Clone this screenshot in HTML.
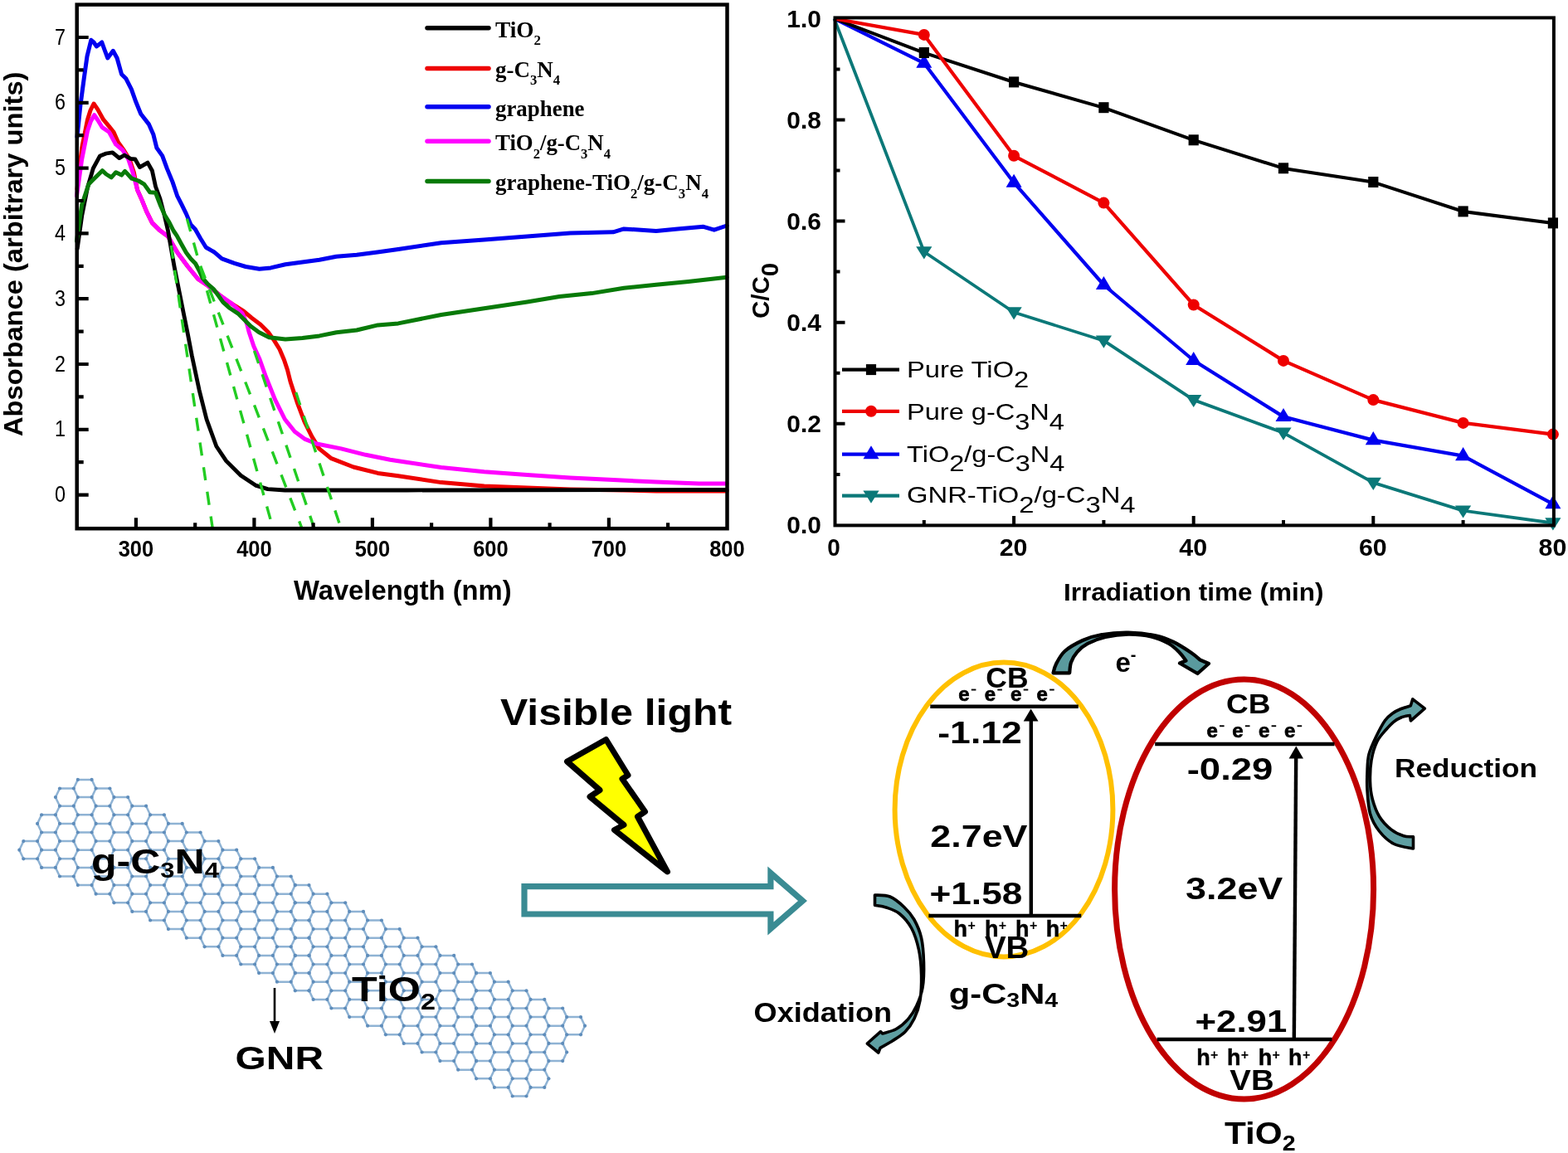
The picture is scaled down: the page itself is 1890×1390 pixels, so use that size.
<!DOCTYPE html><html><head><meta charset="utf-8"><title>Figure</title><style>html,body{margin:0;padding:0;background:#fff;overflow:hidden;}svg{display:block;}</style></head><body>
<svg width="1890" height="1390" viewBox="0 0 1890 1390">
<rect width="1890" height="1390" fill="#fff"/>
<defs><filter id="soft" x="-5%" y="-5%" width="110%" height="110%"><feGaussianBlur stdDeviation="0.55"/></filter></defs>
<g id="leftchart">
<g fill="none" stroke-linejoin="round" stroke-linecap="round">
<polyline points="93,228 98.7,178.3 105.5,144.2 109,133 113,125 117.8,131.9 124.6,144.2 131.5,152.4 137,159.2 142.4,171.5 149.2,181 156.1,192 161.5,208.4 165.6,228.9 171.1,241.2 176.6,254.9 183.4,268.6 193,278.1 202.5,285 214.2,305.1 226.5,321.5 238.8,336.5 251.1,344.7 264.7,355.7 275.7,363.9 293.4,374.8 303,383 314,391.2 323.5,400.8 330.4,410.4 337,421 342.5,434 346.5,446 350,460 358.1,484.8 367,508.4 375.8,526.1 384.7,540.9 399.4,552.7 426,563 455.5,570.4 480,573.8 531.8,581.6 583.6,586 635.4,588.1 687.3,589.9 739.1,590.7 790.9,592 876,592" stroke="#ee0000" stroke-width="5"/>
<polyline points="92.5,236 98.7,192 105.5,157.8 109.5,146 113.7,138.7 118,145 123.3,153.7 131.5,159.2 139.7,174.2 147.9,181 154.7,192 160.2,208.4 165.6,228.9 171.1,241.2 176.6,254.9 183.4,268.6 193,278.1 202.5,285 214.2,305.1 226.5,321.5 238.8,336.5 251.1,344.7 264.7,355.7 278.4,365.2 292.1,377.6 297.5,389.9 300.3,400.8 305.8,417.2 312.6,432.2 319.8,452.4 331.6,481.9 343.4,505.5 355.2,520.2 367,529.1 381.7,535 411.2,540.9 440.7,548.3 470.2,554.2 480,555.7 531.8,563.5 583.6,568.7 635.4,572.5 687.3,575.9 739.1,578.5 790.9,581.1 842.7,582.9 876,583" stroke="#ff00ff" stroke-width="5"/>
<polyline points="93,165 96.9,127.1 101.2,94.8 105,67.8 109.8,48.3 113,51 116.3,55.9 122.8,51 126,60 129.8,70 136.3,61.3 141.1,70 146.5,89.4 151.9,94.8 158.4,107.7 163.8,122.8 169.7,137.3 179.3,149.6 184.8,161.9 188.9,178.3 195.7,187.9 201.2,202.9 208,219.4 213.5,235.8 219,246.7 224.4,257.6 229.9,270.7 235.4,276.5 241.5,287.3 248.3,298.3 257.9,303.7 267.5,311.9 282.5,317.4 296.2,321.5 312.6,324.2 326.3,322.9 344,318.8 364.5,316 385,313.3 405.5,309.2 430,307.2 455,304 480,300.5 531.8,292.7 583.6,288.9 635.4,285 687.3,281.1 739.1,279.8 752,275.9 790.9,278.5 816.8,275.9 847.9,273.3 860.8,277.2 876,272" stroke="#0000f0" stroke-width="5"/>
<polyline points="93.2,300 98.7,260.4 105.5,226.2 112.3,203 120.5,187.9 128,185 135.6,183.8 143.8,190.6 150,187 157.4,191.3 162.9,192 168.4,201.6 178,196.1 183.4,205.7 187.5,224.8 193,239.9 198.4,260.4 202.5,278.1 206,298.3 210.1,321.5 215.5,348.8 221,376.2 226.5,403.5 231.3,428.8 240.1,470.1 249,505.5 260.8,538 272.6,555.6 290.3,573.3 308,585.1 322.7,589.6 343.4,591 490,591 876,590.5" stroke="#000" stroke-width="4.8"/>
<polyline points="92.5,290.4 98.7,246.7 106.9,222.1 112.3,216.6 118,211 123.3,205.7 128,210 134.2,213.9 139.7,207.7 146.5,211.1 150.6,206.4 158.8,215.2 167,218 173.8,222.1 180.7,231.7 187.5,232.3 193,246.7 198.4,259 204,268 209,278 213.3,284.4 218.5,294 224.4,304.4 230,312 235.6,317.8 240,326 244.4,335.6 250,342 257.8,348.9 263,356 268.9,364.4 277,371.5 286.7,377.8 294,385 302.2,393.3 312,400.5 324.4,406.7 344,409 364.5,407.6 385,404.9 405.5,400.8 430,398 455.5,391.9 480,389.9 531.8,379.5 583.6,371.8 635.4,364 674.3,357.5 713.2,353.6 752,347.2 790.9,343.3 829.7,339.4 876,334.2" stroke="#087a08" stroke-width="5"/>
<line x1="206.2" y1="296" x2="256.4" y2="638" stroke="#22cc22" stroke-width="3.4" stroke-dasharray="16 14" stroke-linecap="butt"/>
<line x1="225.4" y1="263.6" x2="329" y2="637" stroke="#22cc22" stroke-width="3.4" stroke-dasharray="16 14" stroke-linecap="butt"/>
<line x1="241.6" y1="320.6" x2="364" y2="637" stroke="#22cc22" stroke-width="3.4" stroke-dasharray="16 14" stroke-linecap="butt"/>
<line x1="306.5" y1="422.9" x2="378.8" y2="637" stroke="#22cc22" stroke-width="3.4" stroke-dasharray="16 14" stroke-linecap="butt"/>
<line x1="356.7" y1="473" x2="411" y2="637" stroke="#22cc22" stroke-width="3.4" stroke-dasharray="16 14" stroke-linecap="butt"/>
</g>
<rect x="92.7" y="5.6" width="783.8" height="631.6" fill="none" stroke="#000" stroke-width="4.5"/>
<path d="M163.9 637.2v-13M235.2 637.2v-7M306.4 637.2v-13M377.6 637.2v-7M448.9 637.2v-13M520.1 637.2v-7M591.4 637.2v-13M662.6 637.2v-7M733.9 637.2v-13M805.1 637.2v-7M92.7 596.6h14M92.7 557.2h8M92.7 517.8h14M92.7 478.4h8M92.7 439h14M92.7 399.6h8M92.7 360.2h14M92.7 320.8h8M92.7 281.4h14M92.7 242h8M92.7 202.6h14M92.7 163.2h8M92.7 123.8h14M92.7 84.4h8M92.7 45h14" stroke="#000" stroke-width="4.2" fill="none"/>
<text x="79" y="605.1" font-family="'Liberation Sans', Arial, sans-serif" font-size="27.5" font-weight="normal" text-anchor="end" fill="#000" textLength="13" lengthAdjust="spacingAndGlyphs" >0</text>
<text x="79" y="526.3" font-family="'Liberation Sans', Arial, sans-serif" font-size="27.5" font-weight="normal" text-anchor="end" fill="#000" textLength="13" lengthAdjust="spacingAndGlyphs" >1</text>
<text x="79" y="447.5" font-family="'Liberation Sans', Arial, sans-serif" font-size="27.5" font-weight="normal" text-anchor="end" fill="#000" textLength="13" lengthAdjust="spacingAndGlyphs" >2</text>
<text x="79" y="368.7" font-family="'Liberation Sans', Arial, sans-serif" font-size="27.5" font-weight="normal" text-anchor="end" fill="#000" textLength="13" lengthAdjust="spacingAndGlyphs" >3</text>
<text x="79" y="289.9" font-family="'Liberation Sans', Arial, sans-serif" font-size="27.5" font-weight="normal" text-anchor="end" fill="#000" textLength="13" lengthAdjust="spacingAndGlyphs" >4</text>
<text x="79" y="211.1" font-family="'Liberation Sans', Arial, sans-serif" font-size="27.5" font-weight="normal" text-anchor="end" fill="#000" textLength="13" lengthAdjust="spacingAndGlyphs" >5</text>
<text x="79" y="132.3" font-family="'Liberation Sans', Arial, sans-serif" font-size="27.5" font-weight="normal" text-anchor="end" fill="#000" textLength="13" lengthAdjust="spacingAndGlyphs" >6</text>
<text x="79" y="53.5" font-family="'Liberation Sans', Arial, sans-serif" font-size="27.5" font-weight="normal" text-anchor="end" fill="#000" textLength="13" lengthAdjust="spacingAndGlyphs" >7</text>
<text x="163.9" y="670.5" font-family="'Liberation Sans', Arial, sans-serif" font-size="28" font-weight="bold" text-anchor="middle" fill="#000" textLength="42.5" lengthAdjust="spacingAndGlyphs" >300</text>
<text x="306.4" y="670.5" font-family="'Liberation Sans', Arial, sans-serif" font-size="28" font-weight="bold" text-anchor="middle" fill="#000" textLength="42.5" lengthAdjust="spacingAndGlyphs" >400</text>
<text x="448.9" y="670.5" font-family="'Liberation Sans', Arial, sans-serif" font-size="28" font-weight="bold" text-anchor="middle" fill="#000" textLength="42.5" lengthAdjust="spacingAndGlyphs" >500</text>
<text x="591.4" y="670.5" font-family="'Liberation Sans', Arial, sans-serif" font-size="28" font-weight="bold" text-anchor="middle" fill="#000" textLength="42.5" lengthAdjust="spacingAndGlyphs" >600</text>
<text x="733.9" y="670.5" font-family="'Liberation Sans', Arial, sans-serif" font-size="28" font-weight="bold" text-anchor="middle" fill="#000" textLength="42.5" lengthAdjust="spacingAndGlyphs" >700</text>
<text x="876.4" y="670.5" font-family="'Liberation Sans', Arial, sans-serif" font-size="28" font-weight="bold" text-anchor="middle" fill="#000" textLength="42.5" lengthAdjust="spacingAndGlyphs" >800</text>
<text x="354" y="723.3" font-family="'Liberation Sans', Arial, sans-serif" font-size="32.7" font-weight="bold" text-anchor="start" fill="#000" textLength="262.6" lengthAdjust="spacingAndGlyphs" >Wavelength (nm)</text>
<text transform="translate(26.8,526) rotate(-90)" font-family="'Liberation Sans', Arial, sans-serif" font-size="31.5" font-weight="bold" textLength="439.5" lengthAdjust="spacingAndGlyphs">Absorbance (arbitrary units)</text>
<line x1="515" y1="33.7" x2="589" y2="33.7" stroke="#000" stroke-width="5.5" stroke-linecap="round"/>
<text x="597" y="44.7" font-family="'Liberation Serif', 'Times New Roman', serif" font-size="27.5" font-weight="bold" textLength="55" lengthAdjust="spacingAndGlyphs">TiO<tspan font-size="17" dy="9.5">2</tspan></text>
<line x1="515" y1="82.4" x2="589" y2="82.4" stroke="#ee0000" stroke-width="5.5" stroke-linecap="round"/>
<text x="597" y="92.5" font-family="'Liberation Serif', 'Times New Roman', serif" font-size="27.5" font-weight="bold" textLength="78" lengthAdjust="spacingAndGlyphs">g-C<tspan font-size="17" dy="9.5">3</tspan><tspan dy="-9.5">N</tspan><tspan font-size="17" dy="9.5">4</tspan></text>
<line x1="515" y1="128.8" x2="589" y2="128.8" stroke="#0000f0" stroke-width="5.5" stroke-linecap="round"/>
<text x="597" y="139.5" font-family="'Liberation Serif', 'Times New Roman', serif" font-size="27.5" font-weight="bold" textLength="107.5" lengthAdjust="spacingAndGlyphs">graphene</text>
<line x1="515" y1="170.2" x2="589" y2="170.2" stroke="#ff00ff" stroke-width="5.5" stroke-linecap="round"/>
<text x="597" y="181.0" font-family="'Liberation Serif', 'Times New Roman', serif" font-size="27.5" font-weight="bold" textLength="139" lengthAdjust="spacingAndGlyphs">TiO<tspan font-size="17" dy="9.5">2</tspan><tspan dy="-9.5">/g-C</tspan><tspan font-size="17" dy="9.5">3</tspan><tspan dy="-9.5">N</tspan><tspan font-size="17" dy="9.5">4</tspan></text>
<line x1="515" y1="218.4" x2="589" y2="218.4" stroke="#087a08" stroke-width="5.5" stroke-linecap="round"/>
<text x="597" y="229.0" font-family="'Liberation Serif', 'Times New Roman', serif" font-size="27.5" font-weight="bold" textLength="257" lengthAdjust="spacingAndGlyphs">graphene-TiO<tspan font-size="17" dy="9.5">2</tspan><tspan dy="-9.5">/g-C</tspan><tspan font-size="17" dy="9.5">3</tspan><tspan dy="-9.5">N</tspan><tspan font-size="17" dy="9.5">4</tspan></text>
</g>
<g id="rightchart">
<polyline points="1005.5,22.4 1113.8,303.5 1222.1,376.5 1330.4,410.7 1438.7,482.1 1547,521.8 1655.3,581.9 1763.6,615.6 1871.9,630.5" fill="none" stroke="#0b7878" stroke-width="3.8" stroke-linejoin="round"/>
<polygon points="1113.8,312.5 1123.4,297.3 1104.2,297.3" fill="#0b7878"/>
<polygon points="1222.1,385.5 1231.7,370.3 1212.5,370.3" fill="#0b7878"/>
<polygon points="1330.4,419.7 1340,404.5 1320.8,404.5" fill="#0b7878"/>
<polygon points="1438.7,491.1 1448.3,475.9 1429.1,475.9" fill="#0b7878"/>
<polygon points="1547,530.8 1556.6,515.6 1537.4,515.6" fill="#0b7878"/>
<polygon points="1655.3,590.9 1664.9,575.7 1645.7,575.7" fill="#0b7878"/>
<polygon points="1763.6,624.6 1773.2,609.4 1754,609.4" fill="#0b7878"/>
<polygon points="1871.9,639.5 1881.5,624.3 1862.3,624.3" fill="#0b7878"/>
<polyline points="1005.5,22.4 1113.8,76.1 1222.1,220.2 1330.4,343.5 1438.7,434.5 1547,502.4 1655.3,530.6 1763.6,549.6 1871.9,607.6" fill="none" stroke="#0000f0" stroke-width="4.2" stroke-linejoin="round"/>
<polygon points="1113.8,65.6 1123.3,81.7 1104.3,81.7" fill="#0000f0"/>
<polygon points="1222.1,209.7 1231.6,225.8 1212.6,225.8" fill="#0000f0"/>
<polygon points="1330.4,333 1339.9,349.1 1320.9,349.1" fill="#0000f0"/>
<polygon points="1438.7,424 1448.2,440.1 1429.2,440.1" fill="#0000f0"/>
<polygon points="1547,491.9 1556.5,508 1537.5,508" fill="#0000f0"/>
<polygon points="1655.3,520.1 1664.8,536.2 1645.8,536.2" fill="#0000f0"/>
<polygon points="1763.6,539.1 1773.1,555.2 1754.1,555.2" fill="#0000f0"/>
<polygon points="1871.9,597.1 1881.4,613.2 1862.4,613.2" fill="#0000f0"/>
<polyline points="1005.5,22.4 1113.8,63.6 1222.1,99 1330.4,129.8 1438.7,168.9 1547,202.9 1655.3,219.6 1763.6,255 1871.9,269" fill="none" stroke="#000" stroke-width="4" stroke-linejoin="round"/>
<rect x="1107.7" y="57" width="12.2" height="13" fill="#000"/>
<rect x="1216" y="92.4" width="12.2" height="13" fill="#000"/>
<rect x="1324.3" y="123.2" width="12.2" height="13" fill="#000"/>
<rect x="1432.6" y="162.3" width="12.2" height="13" fill="#000"/>
<rect x="1540.9" y="196.3" width="12.2" height="13" fill="#000"/>
<rect x="1649.2" y="213" width="12.2" height="13" fill="#000"/>
<rect x="1757.5" y="248.4" width="12.2" height="13" fill="#000"/>
<rect x="1865.8" y="262.4" width="12.2" height="13" fill="#000"/>
<polyline points="1005.5,22.4 1113.8,41.9 1222.1,187.8 1330.4,244.6 1438.7,367.5 1547,434.9 1655.3,482.1 1763.6,509.9 1871.9,523.6" fill="none" stroke="#ee0000" stroke-width="4.2" stroke-linejoin="round"/>
<circle cx="1113.8" cy="41.9" r="7" fill="#ee0000"/>
<circle cx="1222.1" cy="187.8" r="7" fill="#ee0000"/>
<circle cx="1330.4" cy="244.6" r="7" fill="#ee0000"/>
<circle cx="1438.7" cy="367.5" r="7" fill="#ee0000"/>
<circle cx="1547" cy="434.9" r="7" fill="#ee0000"/>
<circle cx="1655.3" cy="482.1" r="7" fill="#ee0000"/>
<circle cx="1763.6" cy="509.9" r="7" fill="#ee0000"/>
<circle cx="1871.9" cy="523.6" r="7" fill="#ee0000"/>
<rect x="1006.5" y="21.4" width="866.4" height="612" fill="none" stroke="#000" stroke-width="4"/>
<path d="M1113.8 632.9v-6M1222.1 632.9v-11M1330.4 632.9v-6M1438.7 632.9v-11M1547 632.9v-6M1655.3 632.9v-11M1763.6 632.9v-6M1006.5 571.9h6M1006.5 510.8h12M1006.5 449.8h6M1006.5 388.7h12M1006.5 327.6h6M1006.5 266.6h12M1006.5 205.6h6M1006.5 144.5h12M1006.5 83.4h6" stroke="#000" stroke-width="4" fill="none"/>
<text x="989.8" y="643.3" font-family="'Liberation Sans', Arial, sans-serif" font-size="29.5" font-weight="bold" text-anchor="end" fill="#000" textLength="41.5" lengthAdjust="spacingAndGlyphs" >0.0</text>
<text x="989.8" y="521.2" font-family="'Liberation Sans', Arial, sans-serif" font-size="29.5" font-weight="bold" text-anchor="end" fill="#000" textLength="41.5" lengthAdjust="spacingAndGlyphs" >0.2</text>
<text x="989.8" y="399.1" font-family="'Liberation Sans', Arial, sans-serif" font-size="29.5" font-weight="bold" text-anchor="end" fill="#000" textLength="41.5" lengthAdjust="spacingAndGlyphs" >0.4</text>
<text x="989.8" y="277" font-family="'Liberation Sans', Arial, sans-serif" font-size="29.5" font-weight="bold" text-anchor="end" fill="#000" textLength="41.5" lengthAdjust="spacingAndGlyphs" >0.6</text>
<text x="989.8" y="154.9" font-family="'Liberation Sans', Arial, sans-serif" font-size="29.5" font-weight="bold" text-anchor="end" fill="#000" textLength="41.5" lengthAdjust="spacingAndGlyphs" >0.8</text>
<text x="989.8" y="32.8" font-family="'Liberation Sans', Arial, sans-serif" font-size="29.5" font-weight="bold" text-anchor="end" fill="#000" textLength="41.5" lengthAdjust="spacingAndGlyphs" >1.0</text>
<text x="1005" y="670.4" font-family="'Liberation Sans', Arial, sans-serif" font-size="30" font-weight="bold" text-anchor="middle" fill="#000" textLength="15.5" lengthAdjust="spacingAndGlyphs" >0</text>
<text x="1221.6" y="670.4" font-family="'Liberation Sans', Arial, sans-serif" font-size="30" font-weight="bold" text-anchor="middle" fill="#000" textLength="33.8" lengthAdjust="spacingAndGlyphs" >20</text>
<text x="1438.2" y="670.4" font-family="'Liberation Sans', Arial, sans-serif" font-size="30" font-weight="bold" text-anchor="middle" fill="#000" textLength="33.8" lengthAdjust="spacingAndGlyphs" >40</text>
<text x="1654.8" y="670.4" font-family="'Liberation Sans', Arial, sans-serif" font-size="30" font-weight="bold" text-anchor="middle" fill="#000" textLength="33.8" lengthAdjust="spacingAndGlyphs" >60</text>
<text x="1871.4" y="670.4" font-family="'Liberation Sans', Arial, sans-serif" font-size="30" font-weight="bold" text-anchor="middle" fill="#000" textLength="33.8" lengthAdjust="spacingAndGlyphs" >80</text>
<text x="1282" y="724.2" font-family="'Liberation Sans', Arial, sans-serif" font-size="30" font-weight="bold" text-anchor="start" fill="#000" textLength="313.4" lengthAdjust="spacingAndGlyphs" >Irradiation time (min)</text>
<text transform="translate(927,384) rotate(-90)" font-family="'Liberation Sans', Arial, sans-serif" font-size="30" font-weight="bold" textLength="67" lengthAdjust="spacingAndGlyphs">C/C<tspan dy="10.5">0</tspan></text>
<line x1="1015" y1="445.7" x2="1084" y2="445.7" stroke="#000" stroke-width="4.2"/>
<rect x="1043.9" y="439.1" width="12.2" height="13" fill="#000"/>
<text x="1093" y="455.3" font-family="'Liberation Sans', Arial, sans-serif" font-size="28.5" textLength="147.3" lengthAdjust="spacingAndGlyphs">Pure TiO<tspan dy="11.7">2</tspan></text>
<line x1="1015" y1="495.8" x2="1084" y2="495.8" stroke="#ee0000" stroke-width="4.2"/>
<circle cx="1050" cy="495.8" r="7" fill="#ee0000"/>
<text x="1093" y="505.9" font-family="'Liberation Sans', Arial, sans-serif" font-size="28.5" textLength="190" lengthAdjust="spacingAndGlyphs">Pure g-C<tspan dy="11.7">3</tspan><tspan dy="-11.7">N</tspan><tspan dy="11.7">4</tspan></text>
<line x1="1015" y1="547.7" x2="1084" y2="547.7" stroke="#0000f0" stroke-width="4.2"/>
<polygon points="1050,537.2 1059.5,553.3 1040.5,553.3" fill="#0000f0"/>
<text x="1093" y="556.5" font-family="'Liberation Sans', Arial, sans-serif" font-size="28.5" textLength="190.4" lengthAdjust="spacingAndGlyphs">TiO<tspan dy="11.7">2</tspan><tspan dy="-11.7">/g-C</tspan><tspan dy="11.7">3</tspan><tspan dy="-11.7">N</tspan><tspan dy="11.7">4</tspan></text>
<line x1="1015" y1="597.7" x2="1084" y2="597.7" stroke="#0b7878" stroke-width="4.2"/>
<polygon points="1050,606.7 1059.6,591.5 1040.4,591.5" fill="#0b7878"/>
<text x="1093" y="606.3" font-family="'Liberation Sans', Arial, sans-serif" font-size="28.5" textLength="275.6" lengthAdjust="spacingAndGlyphs">GNR-TiO<tspan dy="11.7">2</tspan><tspan dy="-11.7">/g-C</tspan><tspan dy="11.7">3</tspan><tspan dy="-11.7">N</tspan><tspan dy="11.7">4</tspan></text>
</g>
<g filter="url(#soft)">
<path d="M23.3 1024.7L28.3 1014.1M23.3 1024.7L28.3 1035.3M28.3 1014.1L45.1 1014.1M28.3 1035.3L45.1 1035.3M45.1 992.9L50.1 982.3M45.1 992.9L50.1 1003.5M45.1 1014.1L50.1 1003.5M45.1 1014.1L50.1 1024.7M45.1 1035.3L50.1 1024.7M45.1 1035.3L50.1 1045.9M50.1 982.3L66.9 982.3M50.1 1003.5L66.9 1003.5M50.1 1024.7L66.9 1024.7M50.1 1045.9L66.9 1045.9M66.9 961.1L72 950.5M66.9 961.1L72 971.7M66.9 982.3L72 971.7M66.9 982.3L72 992.9M66.9 1003.5L72 992.9M66.9 1003.5L72 1014.1M66.9 1024.7L72 1014.1M66.9 1024.7L72 1035.3M66.9 1045.9L72 1035.3M66.9 1045.9L72 1056.5M72 950.5L88.8 950.5M72 971.7L88.8 971.7M72 992.9L88.8 992.9M72 1014.1L88.8 1014.1M72 1035.3L88.8 1035.3M72 1056.5L88.8 1056.5M88.8 950.5L93.8 939.9M88.8 950.5L93.8 961.1M88.8 971.7L93.8 961.1M88.8 971.7L93.8 982.3M88.8 992.9L93.8 982.3M88.8 992.9L93.8 1003.5M88.8 1014.1L93.8 1003.5M88.8 1014.1L93.8 1024.7M88.8 1035.3L93.8 1024.7M88.8 1035.3L93.8 1045.9M88.8 1056.5L93.8 1045.9M88.8 1056.5L93.8 1067.1M93.8 939.9L110.6 939.9M93.8 961.1L110.6 961.1M93.8 982.3L110.6 982.3M93.8 1003.5L110.6 1003.5M93.8 1024.7L110.6 1024.7M93.8 1045.9L110.6 1045.9M93.8 1067.1L110.6 1067.1M110.6 939.9L115.6 950.5M110.6 961.1L115.6 950.5M110.6 961.1L115.6 971.7M110.6 982.3L115.6 971.7M110.6 982.3L115.6 992.9M110.6 1003.5L115.6 992.9M110.6 1003.5L115.6 1014.1M110.6 1024.7L115.6 1014.1M110.6 1024.7L115.6 1035.3M110.6 1045.9L115.6 1035.3M110.6 1045.9L115.6 1056.5M110.6 1067.1L115.6 1056.5M110.6 1067.1L115.6 1077.7M115.6 950.5L132.4 950.5M115.6 971.7L132.4 971.7M115.6 992.9L132.4 992.9M115.6 1014.1L132.4 1014.1M115.6 1035.3L132.4 1035.3M115.6 1056.5L132.4 1056.5M115.6 1077.7L132.4 1077.7M132.4 950.5L137.4 961.1M132.4 971.7L137.4 961.1M132.4 971.7L137.4 982.3M132.4 992.9L137.4 982.3M132.4 992.9L137.4 1003.5M132.4 1014.1L137.4 1003.5M132.4 1014.1L137.4 1024.7M132.4 1035.3L137.4 1024.7M132.4 1035.3L137.4 1045.9M132.4 1056.5L137.4 1045.9M132.4 1056.5L137.4 1067.1M132.4 1077.7L137.4 1067.1M132.4 1077.7L137.4 1088.3M137.4 961.1L154.2 961.1M137.4 982.3L154.2 982.3M137.4 1003.5L154.2 1003.5M137.4 1024.7L154.2 1024.7M137.4 1045.9L154.2 1045.9M137.4 1067.1L154.2 1067.1M137.4 1088.3L154.2 1088.3M154.2 961.1L159.3 971.7M154.2 982.3L159.3 971.7M154.2 982.3L159.3 992.9M154.2 1003.5L159.3 992.9M154.2 1003.5L159.3 1014.1M154.2 1024.7L159.3 1014.1M154.2 1024.7L159.3 1035.3M154.2 1045.9L159.3 1035.3M154.2 1045.9L159.3 1056.5M154.2 1067.1L159.3 1056.5M154.2 1067.1L159.3 1077.7M154.2 1088.3L159.3 1077.7M154.2 1088.3L159.3 1098.9M159.3 971.7L176.1 971.7M159.3 992.9L176.1 992.9M159.3 1014.1L176.1 1014.1M159.3 1035.3L176.1 1035.3M159.3 1056.5L176.1 1056.5M159.3 1077.7L176.1 1077.7M159.3 1098.9L176.1 1098.9M176.1 971.7L181.1 982.3M176.1 992.9L181.1 982.3M176.1 992.9L181.1 1003.5M176.1 1014.1L181.1 1003.5M176.1 1014.1L181.1 1024.7M176.1 1035.3L181.1 1024.7M176.1 1035.3L181.1 1045.9M176.1 1056.5L181.1 1045.9M176.1 1056.5L181.1 1067.1M176.1 1077.7L181.1 1067.1M176.1 1077.7L181.1 1088.3M176.1 1098.9L181.1 1088.3M176.1 1098.9L181.1 1109.5M181.1 982.3L197.9 982.3M181.1 1003.5L197.9 1003.5M181.1 1024.7L197.9 1024.7M181.1 1045.9L197.9 1045.9M181.1 1067.1L197.9 1067.1M181.1 1088.3L197.9 1088.3M181.1 1109.5L197.9 1109.5M197.9 982.3L202.9 992.9M197.9 1003.5L202.9 992.9M197.9 1003.5L202.9 1014.1M197.9 1024.7L202.9 1014.1M197.9 1024.7L202.9 1035.3M197.9 1045.9L202.9 1035.3M197.9 1045.9L202.9 1056.5M197.9 1067.1L202.9 1056.5M197.9 1067.1L202.9 1077.7M197.9 1088.3L202.9 1077.7M197.9 1088.3L202.9 1098.9M197.9 1109.5L202.9 1098.9M197.9 1109.5L202.9 1120.1M202.9 992.9L219.7 992.9M202.9 1014.1L219.7 1014.1M202.9 1035.3L219.7 1035.3M202.9 1056.5L219.7 1056.5M202.9 1077.7L219.7 1077.7M202.9 1098.9L219.7 1098.9M202.9 1120.1L219.7 1120.1M219.7 992.9L224.8 1003.5M219.7 1014.1L224.8 1003.5M219.7 1014.1L224.8 1024.7M219.7 1035.3L224.8 1024.7M219.7 1035.3L224.8 1045.9M219.7 1056.5L224.8 1045.9M219.7 1056.5L224.8 1067.1M219.7 1077.7L224.8 1067.1M219.7 1077.7L224.8 1088.3M219.7 1098.9L224.8 1088.3M219.7 1098.9L224.8 1109.5M219.7 1120.1L224.8 1109.5M219.7 1120.1L224.8 1130.7M224.8 1003.5L241.6 1003.5M224.8 1024.7L241.6 1024.7M224.8 1045.9L241.6 1045.9M224.8 1067.1L241.6 1067.1M224.8 1088.3L241.6 1088.3M224.8 1109.5L241.6 1109.5M224.8 1130.7L241.6 1130.7M241.6 1003.5L246.6 1014.1M241.6 1024.7L246.6 1014.1M241.6 1024.7L246.6 1035.3M241.6 1045.9L246.6 1035.3M241.6 1045.9L246.6 1056.5M241.6 1067.1L246.6 1056.5M241.6 1067.1L246.6 1077.7M241.6 1088.3L246.6 1077.7M241.6 1088.3L246.6 1098.9M241.6 1109.5L246.6 1098.9M241.6 1109.5L246.6 1120.1M241.6 1130.7L246.6 1120.1M241.6 1130.7L246.6 1141.3M246.6 1014.1L263.4 1014.1M246.6 1035.3L263.4 1035.3M246.6 1056.5L263.4 1056.5M246.6 1077.7L263.4 1077.7M246.6 1098.9L263.4 1098.9M246.6 1120.1L263.4 1120.1M246.6 1141.3L263.4 1141.3M263.4 1014.1L268.4 1024.7M263.4 1035.3L268.4 1024.7M263.4 1035.3L268.4 1045.9M263.4 1056.5L268.4 1045.9M263.4 1056.5L268.4 1067.1M263.4 1077.7L268.4 1067.1M263.4 1077.7L268.4 1088.3M263.4 1098.9L268.4 1088.3M263.4 1098.9L268.4 1109.5M263.4 1120.1L268.4 1109.5M263.4 1120.1L268.4 1130.7M263.4 1141.3L268.4 1130.7M263.4 1141.3L268.4 1151.9M268.4 1024.7L285.2 1024.7M268.4 1045.9L285.2 1045.9M268.4 1067.1L285.2 1067.1M268.4 1088.3L285.2 1088.3M268.4 1109.5L285.2 1109.5M268.4 1130.7L285.2 1130.7M268.4 1151.9L285.2 1151.9M285.2 1024.7L290.3 1035.3M285.2 1045.9L290.3 1035.3M285.2 1045.9L290.3 1056.5M285.2 1067.1L290.3 1056.5M285.2 1067.1L290.3 1077.7M285.2 1088.3L290.3 1077.7M285.2 1088.3L290.3 1098.9M285.2 1109.5L290.3 1098.9M285.2 1109.5L290.3 1120.1M285.2 1130.7L290.3 1120.1M285.2 1130.7L290.3 1141.3M285.2 1151.9L290.3 1141.3M285.2 1151.9L290.3 1162.5M290.3 1035.3L307.1 1035.3M290.3 1056.5L307.1 1056.5M290.3 1077.7L307.1 1077.7M290.3 1098.9L307.1 1098.9M290.3 1120.1L307.1 1120.1M290.3 1141.3L307.1 1141.3M290.3 1162.5L307.1 1162.5M307.1 1035.3L312.1 1045.9M307.1 1056.5L312.1 1045.9M307.1 1056.5L312.1 1067.1M307.1 1077.7L312.1 1067.1M307.1 1077.7L312.1 1088.3M307.1 1098.9L312.1 1088.3M307.1 1098.9L312.1 1109.5M307.1 1120.1L312.1 1109.5M307.1 1120.1L312.1 1130.7M307.1 1141.3L312.1 1130.7M307.1 1141.3L312.1 1151.9M307.1 1162.5L312.1 1151.9M307.1 1162.5L312.1 1173.1M312.1 1045.9L328.9 1045.9M312.1 1067.1L328.9 1067.1M312.1 1088.3L328.9 1088.3M312.1 1109.5L328.9 1109.5M312.1 1130.7L328.9 1130.7M312.1 1151.9L328.9 1151.9M312.1 1173.1L328.9 1173.1M328.9 1045.9L333.9 1056.5M328.9 1067.1L333.9 1056.5M328.9 1067.1L333.9 1077.7M328.9 1088.3L333.9 1077.7M328.9 1088.3L333.9 1098.9M328.9 1109.5L333.9 1098.9M328.9 1109.5L333.9 1120.1M328.9 1130.7L333.9 1120.1M328.9 1130.7L333.9 1141.3M328.9 1151.9L333.9 1141.3M328.9 1151.9L333.9 1162.5M328.9 1173.1L333.9 1162.5M328.9 1173.1L333.9 1183.7M333.9 1056.5L350.7 1056.5M333.9 1077.7L350.7 1077.7M333.9 1098.9L350.7 1098.9M333.9 1120.1L350.7 1120.1M333.9 1141.3L350.7 1141.3M333.9 1162.5L350.7 1162.5M333.9 1183.7L350.7 1183.7M350.7 1056.5L355.7 1067.1M350.7 1077.7L355.7 1067.1M350.7 1077.7L355.7 1088.3M350.7 1077.7L355.8 1067.1M350.7 1077.7L355.8 1088.3M350.7 1098.9L355.7 1088.3M350.7 1098.9L355.7 1109.5M350.7 1098.9L355.8 1088.3M350.7 1098.9L355.8 1109.5M350.7 1120.1L355.7 1109.5M350.7 1120.1L355.7 1130.7M350.7 1120.1L355.8 1109.5M350.7 1120.1L355.8 1130.7M350.7 1141.3L355.7 1130.7M350.7 1141.3L355.7 1151.9M350.7 1141.3L355.8 1130.7M350.7 1141.3L355.8 1151.9M350.7 1162.5L355.7 1151.9M350.7 1162.5L355.7 1173.1M350.7 1162.5L355.8 1151.9M350.7 1162.5L355.8 1173.1M350.7 1183.7L355.7 1173.1M350.7 1183.7L355.8 1173.1M350.7 1183.7L355.8 1194.3M355.8 1067.1L372.5 1067.1M355.8 1088.3L372.5 1088.3M355.8 1109.5L372.5 1109.5M355.8 1130.7L372.5 1130.7M355.8 1151.9L372.5 1151.9M355.8 1173.1L372.5 1173.1M355.8 1194.3L372.5 1194.3M372.5 1067.1L377.6 1077.7M372.5 1088.3L377.6 1077.7M372.5 1088.3L377.6 1098.9M372.5 1109.5L377.6 1098.9M372.5 1109.5L377.6 1120.1M372.5 1130.7L377.6 1120.1M372.5 1130.7L377.6 1141.3M372.5 1151.9L377.6 1141.3M372.5 1151.9L377.6 1162.5M372.5 1173.1L377.6 1162.5M372.5 1173.1L377.6 1183.7M372.5 1194.3L377.6 1183.7M372.6 1088.3L377.6 1077.7M372.6 1088.3L377.6 1098.9M372.6 1109.5L377.6 1098.9M372.6 1109.5L377.6 1120.1M372.6 1130.7L377.6 1120.1M372.6 1130.7L377.6 1141.3M372.6 1151.9L377.6 1141.3M372.6 1151.9L377.6 1162.5M372.6 1173.1L377.6 1162.5M372.6 1173.1L377.6 1183.7M372.6 1194.3L377.6 1183.7M372.6 1194.3L377.6 1204.9M377.6 1077.7L394.4 1077.7M377.6 1098.9L394.4 1098.9M377.6 1120.1L394.4 1120.1M377.6 1141.3L394.4 1141.3M377.6 1162.5L394.4 1162.5M377.6 1183.7L394.4 1183.7M377.6 1204.9L394.4 1204.9M394.4 1077.7L399.4 1088.3M394.4 1098.9L399.4 1088.3M394.4 1098.9L399.4 1109.5M394.4 1120.1L399.4 1109.5M394.4 1120.1L399.4 1130.7M394.4 1141.3L399.4 1130.7M394.4 1141.3L399.4 1151.9M394.4 1162.5L399.4 1151.9M394.4 1162.5L399.4 1173.1M394.4 1183.7L399.4 1173.1M394.4 1183.7L399.4 1194.3M394.4 1204.9L399.4 1194.3M394.4 1204.9L399.4 1215.5M399.4 1088.3L416.2 1088.3M399.4 1109.5L416.2 1109.5M399.4 1130.7L416.2 1130.7M399.4 1151.9L416.2 1151.9M399.4 1173.1L416.2 1173.1M399.4 1194.3L416.2 1194.3M399.4 1215.5L416.2 1215.5M416.2 1088.3L421.2 1098.9M416.2 1109.5L421.2 1098.9M416.2 1109.5L421.2 1120.1M416.2 1130.7L421.2 1120.1M416.2 1130.7L421.2 1141.3M416.2 1151.9L421.2 1141.3M416.2 1151.9L421.2 1162.5M416.2 1173.1L421.2 1162.5M416.2 1173.1L421.2 1183.7M416.2 1194.3L421.2 1183.7M416.2 1194.3L421.2 1204.9M416.2 1215.5L421.2 1204.9M416.2 1215.5L421.2 1226.1M421.2 1098.9L438 1098.9M421.2 1120.1L438 1120.1M421.2 1141.3L438 1141.3M421.2 1162.5L438 1162.5M421.2 1183.7L438 1183.7M421.2 1204.9L438 1204.9M421.2 1226.1L438 1226.1M438 1098.9L443.1 1109.5M438 1120.1L443.1 1109.5M438 1120.1L443.1 1130.7M438 1141.3L443.1 1130.7M438 1141.3L443.1 1151.9M438 1162.5L443.1 1151.9M438 1162.5L443.1 1173.1M438 1183.7L443.1 1173.1M438 1183.7L443.1 1194.3M438 1204.9L443.1 1194.3M438 1204.9L443.1 1215.5M438 1226.1L443.1 1215.5M438 1226.1L443.1 1236.7M443.1 1109.5L459.9 1109.5M443.1 1130.7L459.9 1130.7M443.1 1151.9L459.9 1151.9M443.1 1173.1L459.9 1173.1M443.1 1194.3L459.9 1194.3M443.1 1215.5L459.9 1215.5M443.1 1236.7L459.9 1236.7M459.9 1109.5L464.9 1120.1M459.9 1130.7L464.9 1120.1M459.9 1130.7L464.9 1141.3M459.9 1151.9L464.9 1141.3M459.9 1151.9L464.9 1162.5M459.9 1173.1L464.9 1162.5M459.9 1173.1L464.9 1183.7M459.9 1194.3L464.9 1183.7M459.9 1194.3L464.9 1204.9M459.9 1215.5L464.9 1204.9M459.9 1215.5L464.9 1226.1M459.9 1236.7L464.9 1226.1M459.9 1236.7L464.9 1247.3M464.9 1120.1L481.7 1120.1M464.9 1141.3L481.7 1141.3M464.9 1162.5L481.7 1162.5M464.9 1183.7L481.7 1183.7M464.9 1204.9L481.7 1204.9M464.9 1226.1L481.7 1226.1M464.9 1247.3L481.7 1247.3M481.7 1120.1L486.7 1130.7M481.7 1141.3L486.7 1130.7M481.7 1141.3L486.7 1151.9M481.7 1162.5L486.7 1151.9M481.7 1162.5L486.7 1173.1M481.7 1183.7L486.7 1173.1M481.7 1183.7L486.7 1194.3M481.7 1204.9L486.7 1194.3M481.7 1204.9L486.7 1215.5M481.7 1226.1L486.7 1215.5M481.7 1226.1L486.7 1236.7M481.7 1247.3L486.7 1236.7M481.7 1247.3L486.7 1257.9M486.7 1130.7L503.5 1130.7M486.7 1151.9L503.5 1151.9M486.7 1173.1L503.5 1173.1M486.7 1194.3L503.5 1194.3M486.7 1215.5L503.5 1215.5M486.7 1236.7L503.5 1236.7M486.7 1257.9L503.5 1257.9M503.5 1130.7L508.6 1141.3M503.5 1151.9L508.6 1141.3M503.5 1151.9L508.6 1162.5M503.5 1173.1L508.6 1162.5M503.5 1173.1L508.6 1183.7M503.5 1194.3L508.6 1183.7M503.5 1194.3L508.6 1204.9M503.5 1215.5L508.6 1204.9M503.5 1215.5L508.6 1226.1M503.5 1236.7L508.6 1226.1M503.5 1236.7L508.6 1247.3M503.5 1257.9L508.6 1247.3M503.5 1257.9L508.6 1268.5M508.6 1141.3L525.4 1141.3M508.6 1162.5L525.4 1162.5M508.6 1183.7L525.4 1183.7M508.6 1204.9L525.4 1204.9M508.6 1226.1L525.4 1226.1M508.6 1247.3L525.4 1247.3M508.6 1268.5L525.4 1268.5M525.4 1141.3L530.4 1151.9M525.4 1162.5L530.4 1151.9M525.4 1162.5L530.4 1173.1M525.4 1183.7L530.4 1173.1M525.4 1183.7L530.4 1194.3M525.4 1204.9L530.4 1194.3M525.4 1204.9L530.4 1215.5M525.4 1226.1L530.4 1215.5M525.4 1226.1L530.4 1236.7M525.4 1247.3L530.4 1236.7M525.4 1247.3L530.4 1257.9M525.4 1268.5L530.4 1257.9M525.4 1268.5L530.4 1279.1M530.4 1151.9L547.2 1151.9M530.4 1173.1L547.2 1173.1M530.4 1194.3L547.2 1194.3M530.4 1215.5L547.2 1215.5M530.4 1236.7L547.2 1236.7M530.4 1257.9L547.2 1257.9M530.4 1279.1L547.2 1279.1M547.2 1151.9L552.2 1162.5M547.2 1173.1L552.2 1162.5M547.2 1173.1L552.2 1183.7M547.2 1194.3L552.2 1183.7M547.2 1194.3L552.2 1204.9M547.2 1215.5L552.2 1204.9M547.2 1215.5L552.2 1226.1M547.2 1236.7L552.2 1226.1M547.2 1236.7L552.2 1247.3M547.2 1257.9L552.2 1247.3M547.2 1257.9L552.2 1268.5M547.2 1279.1L552.2 1268.5M547.2 1279.1L552.2 1289.7M552.2 1162.5L569 1162.5M552.2 1183.7L569 1183.7M552.2 1204.9L569 1204.9M552.2 1226.1L569 1226.1M552.2 1247.3L569 1247.3M552.2 1268.5L569 1268.5M552.2 1289.7L569 1289.7M569 1162.5L574 1173.1M569 1183.7L574 1173.1M569 1183.7L574 1194.3M569 1183.7L574.1 1173.1M569 1183.7L574.1 1194.3M569 1204.9L574 1194.3M569 1204.9L574 1215.5M569 1204.9L574.1 1194.3M569 1204.9L574.1 1215.5M569 1226.1L574 1215.5M569 1226.1L574 1236.7M569 1226.1L574.1 1215.5M569 1226.1L574.1 1236.7M569 1247.3L574 1236.7M569 1247.3L574 1257.9M569 1247.3L574.1 1236.7M569 1247.3L574.1 1257.9M569 1268.5L574 1257.9M569 1268.5L574 1279.1M569 1268.5L574.1 1257.9M569 1268.5L574.1 1279.1M569 1289.7L574 1279.1M569 1289.7L574.1 1279.1M569 1289.7L574.1 1300.3M574.1 1173.1L590.9 1173.1M574.1 1194.3L590.9 1194.3M574.1 1215.5L590.9 1215.5M574.1 1236.7L590.9 1236.7M574.1 1257.9L590.9 1257.9M574.1 1279.1L590.9 1279.1M574.1 1300.3L590.9 1300.3M590.9 1173.1L595.9 1183.7M590.9 1194.3L595.9 1183.7M590.9 1194.3L595.9 1204.9M590.9 1215.5L595.9 1204.9M590.9 1215.5L595.9 1226.1M590.9 1236.7L595.9 1226.1M590.9 1236.7L595.9 1247.3M590.9 1257.9L595.9 1247.3M590.9 1257.9L595.9 1268.5M590.9 1279.1L595.9 1268.5M590.9 1279.1L595.9 1289.7M590.9 1300.3L595.9 1289.7M590.9 1300.3L595.9 1310.9M595.9 1183.7L612.7 1183.7M595.9 1204.9L612.7 1204.9M595.9 1226.1L612.7 1226.1M595.9 1247.3L612.7 1247.3M595.9 1268.5L612.7 1268.5M595.9 1289.7L612.7 1289.7M595.9 1310.9L612.7 1310.9M612.7 1183.7L617.7 1194.3M612.7 1204.9L617.7 1194.3M612.7 1204.9L617.7 1215.5M612.7 1226.1L617.7 1215.5M612.7 1226.1L617.7 1236.7M612.7 1247.3L617.7 1236.7M612.7 1247.3L617.7 1257.9M612.7 1268.5L617.7 1257.9M612.7 1268.5L617.7 1279.1M612.7 1289.7L617.7 1279.1M612.7 1289.7L617.7 1300.3M612.7 1310.9L617.7 1300.3M612.7 1310.9L617.7 1321.5M617.7 1194.3L634.5 1194.3M617.7 1215.5L634.5 1215.5M617.7 1236.7L634.5 1236.7M617.7 1257.9L634.5 1257.9M617.7 1279.1L634.5 1279.1M617.7 1300.3L634.5 1300.3M617.7 1321.5L634.5 1321.5M634.5 1194.3L639.5 1204.9M634.5 1215.5L639.5 1204.9M634.5 1215.5L639.5 1226.1M634.5 1236.7L639.5 1226.1M634.5 1236.7L639.5 1247.3M634.5 1257.9L639.5 1247.3M634.5 1257.9L639.5 1268.5M634.5 1279.1L639.5 1268.5M634.5 1279.1L639.5 1289.7M634.5 1300.3L639.5 1289.7M634.5 1300.3L639.5 1310.9M634.5 1321.5L639.5 1310.9M639.5 1204.9L656.3 1204.9M639.5 1226.1L656.3 1226.1M639.5 1247.3L656.3 1247.3M639.5 1268.5L656.3 1268.5M639.5 1289.7L656.3 1289.7M639.5 1310.9L656.3 1310.9M656.3 1204.9L661.4 1215.5M656.3 1226.1L661.4 1215.5M656.3 1226.1L661.4 1236.7M656.3 1247.3L661.4 1236.7M656.3 1247.3L661.4 1257.9M656.3 1268.5L661.4 1257.9M656.3 1268.5L661.4 1279.1M656.3 1289.7L661.4 1279.1M656.3 1289.7L661.4 1300.3M656.3 1310.9L661.4 1300.3M661.4 1215.5L678.2 1215.5M661.4 1236.7L678.2 1236.7M661.4 1257.9L678.2 1257.9M661.4 1279.1L678.2 1279.1M678.2 1215.5L683.2 1226.1M678.2 1236.7L683.2 1226.1M678.2 1236.7L683.2 1247.3M678.2 1257.9L683.2 1247.3M678.2 1257.9L683.2 1268.5M678.2 1279.1L683.2 1268.5M683.2 1226.1L700 1226.1M683.2 1247.3L700 1247.3M700 1226.1L705 1236.7M700 1247.3L705 1236.7" stroke="#8fb3d4" stroke-width="2.5" fill="none"/>
<g fill="#5f8dbb"><circle cx="23.3" cy="1024.7" r="2.1"/><circle cx="28.3" cy="1014.1" r="2.1"/><circle cx="28.3" cy="1035.3" r="2.1"/><circle cx="45.1" cy="992.9" r="2.1"/><circle cx="45.1" cy="1014.1" r="2.1"/><circle cx="45.1" cy="1035.3" r="2.1"/><circle cx="50.1" cy="982.3" r="2.1"/><circle cx="50.1" cy="1003.5" r="2.1"/><circle cx="50.1" cy="1024.7" r="2.1"/><circle cx="50.1" cy="1045.9" r="2.1"/><circle cx="66.9" cy="961.1" r="2.1"/><circle cx="66.9" cy="982.3" r="2.1"/><circle cx="66.9" cy="1003.5" r="2.1"/><circle cx="66.9" cy="1024.7" r="2.1"/><circle cx="66.9" cy="1045.9" r="2.1"/><circle cx="72" cy="950.5" r="2.1"/><circle cx="72" cy="971.7" r="2.1"/><circle cx="72" cy="992.9" r="2.1"/><circle cx="72" cy="1014.1" r="2.1"/><circle cx="72" cy="1035.3" r="2.1"/><circle cx="72" cy="1056.5" r="2.1"/><circle cx="88.8" cy="950.5" r="2.1"/><circle cx="88.8" cy="971.7" r="2.1"/><circle cx="88.8" cy="992.9" r="2.1"/><circle cx="88.8" cy="1014.1" r="2.1"/><circle cx="88.8" cy="1035.3" r="2.1"/><circle cx="88.8" cy="1056.5" r="2.1"/><circle cx="93.8" cy="939.9" r="2.1"/><circle cx="93.8" cy="961.1" r="2.1"/><circle cx="93.8" cy="982.3" r="2.1"/><circle cx="93.8" cy="1003.5" r="2.1"/><circle cx="93.8" cy="1024.7" r="2.1"/><circle cx="93.8" cy="1045.9" r="2.1"/><circle cx="93.8" cy="1067.1" r="2.1"/><circle cx="110.6" cy="939.9" r="2.1"/><circle cx="110.6" cy="961.1" r="2.1"/><circle cx="110.6" cy="982.3" r="2.1"/><circle cx="110.6" cy="1003.5" r="2.1"/><circle cx="110.6" cy="1024.7" r="2.1"/><circle cx="110.6" cy="1045.9" r="2.1"/><circle cx="110.6" cy="1067.1" r="2.1"/><circle cx="115.6" cy="950.5" r="2.1"/><circle cx="115.6" cy="971.7" r="2.1"/><circle cx="115.6" cy="992.9" r="2.1"/><circle cx="115.6" cy="1014.1" r="2.1"/><circle cx="115.6" cy="1035.3" r="2.1"/><circle cx="115.6" cy="1056.5" r="2.1"/><circle cx="115.6" cy="1077.7" r="2.1"/><circle cx="132.4" cy="950.5" r="2.1"/><circle cx="132.4" cy="971.7" r="2.1"/><circle cx="132.4" cy="992.9" r="2.1"/><circle cx="132.4" cy="1014.1" r="2.1"/><circle cx="132.4" cy="1035.3" r="2.1"/><circle cx="132.4" cy="1056.5" r="2.1"/><circle cx="132.4" cy="1077.7" r="2.1"/><circle cx="137.4" cy="961.1" r="2.1"/><circle cx="137.4" cy="982.3" r="2.1"/><circle cx="137.4" cy="1003.5" r="2.1"/><circle cx="137.4" cy="1024.7" r="2.1"/><circle cx="137.4" cy="1045.9" r="2.1"/><circle cx="137.4" cy="1067.1" r="2.1"/><circle cx="137.4" cy="1088.3" r="2.1"/><circle cx="154.2" cy="961.1" r="2.1"/><circle cx="154.2" cy="982.3" r="2.1"/><circle cx="154.2" cy="1003.5" r="2.1"/><circle cx="154.2" cy="1024.7" r="2.1"/><circle cx="154.2" cy="1045.9" r="2.1"/><circle cx="154.2" cy="1067.1" r="2.1"/><circle cx="154.2" cy="1088.3" r="2.1"/><circle cx="159.3" cy="971.7" r="2.1"/><circle cx="159.3" cy="992.9" r="2.1"/><circle cx="159.3" cy="1014.1" r="2.1"/><circle cx="159.3" cy="1035.3" r="2.1"/><circle cx="159.3" cy="1056.5" r="2.1"/><circle cx="159.3" cy="1077.7" r="2.1"/><circle cx="159.3" cy="1098.9" r="2.1"/><circle cx="176.1" cy="971.7" r="2.1"/><circle cx="176.1" cy="992.9" r="2.1"/><circle cx="176.1" cy="1014.1" r="2.1"/><circle cx="176.1" cy="1035.3" r="2.1"/><circle cx="176.1" cy="1056.5" r="2.1"/><circle cx="176.1" cy="1077.7" r="2.1"/><circle cx="176.1" cy="1098.9" r="2.1"/><circle cx="181.1" cy="982.3" r="2.1"/><circle cx="181.1" cy="1003.5" r="2.1"/><circle cx="181.1" cy="1024.7" r="2.1"/><circle cx="181.1" cy="1045.9" r="2.1"/><circle cx="181.1" cy="1067.1" r="2.1"/><circle cx="181.1" cy="1088.3" r="2.1"/><circle cx="181.1" cy="1109.5" r="2.1"/><circle cx="197.9" cy="982.3" r="2.1"/><circle cx="197.9" cy="1003.5" r="2.1"/><circle cx="197.9" cy="1024.7" r="2.1"/><circle cx="197.9" cy="1045.9" r="2.1"/><circle cx="197.9" cy="1067.1" r="2.1"/><circle cx="197.9" cy="1088.3" r="2.1"/><circle cx="197.9" cy="1109.5" r="2.1"/><circle cx="202.9" cy="992.9" r="2.1"/><circle cx="202.9" cy="1014.1" r="2.1"/><circle cx="202.9" cy="1035.3" r="2.1"/><circle cx="202.9" cy="1056.5" r="2.1"/><circle cx="202.9" cy="1077.7" r="2.1"/><circle cx="202.9" cy="1098.9" r="2.1"/><circle cx="202.9" cy="1120.1" r="2.1"/><circle cx="219.7" cy="992.9" r="2.1"/><circle cx="219.7" cy="1014.1" r="2.1"/><circle cx="219.7" cy="1035.3" r="2.1"/><circle cx="219.7" cy="1056.5" r="2.1"/><circle cx="219.7" cy="1077.7" r="2.1"/><circle cx="219.7" cy="1098.9" r="2.1"/><circle cx="219.7" cy="1120.1" r="2.1"/><circle cx="224.8" cy="1003.5" r="2.1"/><circle cx="224.8" cy="1024.7" r="2.1"/><circle cx="224.8" cy="1045.9" r="2.1"/><circle cx="224.8" cy="1067.1" r="2.1"/><circle cx="224.8" cy="1088.3" r="2.1"/><circle cx="224.8" cy="1109.5" r="2.1"/><circle cx="224.8" cy="1130.7" r="2.1"/><circle cx="241.6" cy="1003.5" r="2.1"/><circle cx="241.6" cy="1024.7" r="2.1"/><circle cx="241.6" cy="1045.9" r="2.1"/><circle cx="241.6" cy="1067.1" r="2.1"/><circle cx="241.6" cy="1088.3" r="2.1"/><circle cx="241.6" cy="1109.5" r="2.1"/><circle cx="241.6" cy="1130.7" r="2.1"/><circle cx="246.6" cy="1014.1" r="2.1"/><circle cx="246.6" cy="1035.3" r="2.1"/><circle cx="246.6" cy="1056.5" r="2.1"/><circle cx="246.6" cy="1077.7" r="2.1"/><circle cx="246.6" cy="1098.9" r="2.1"/><circle cx="246.6" cy="1120.1" r="2.1"/><circle cx="246.6" cy="1141.3" r="2.1"/><circle cx="263.4" cy="1014.1" r="2.1"/><circle cx="263.4" cy="1035.3" r="2.1"/><circle cx="263.4" cy="1056.5" r="2.1"/><circle cx="263.4" cy="1077.7" r="2.1"/><circle cx="263.4" cy="1098.9" r="2.1"/><circle cx="263.4" cy="1120.1" r="2.1"/><circle cx="263.4" cy="1141.3" r="2.1"/><circle cx="268.4" cy="1024.7" r="2.1"/><circle cx="268.4" cy="1045.9" r="2.1"/><circle cx="268.4" cy="1067.1" r="2.1"/><circle cx="268.4" cy="1088.3" r="2.1"/><circle cx="268.4" cy="1109.5" r="2.1"/><circle cx="268.4" cy="1130.7" r="2.1"/><circle cx="268.4" cy="1151.9" r="2.1"/><circle cx="285.2" cy="1024.7" r="2.1"/><circle cx="285.2" cy="1045.9" r="2.1"/><circle cx="285.2" cy="1067.1" r="2.1"/><circle cx="285.2" cy="1088.3" r="2.1"/><circle cx="285.2" cy="1109.5" r="2.1"/><circle cx="285.2" cy="1130.7" r="2.1"/><circle cx="285.2" cy="1151.9" r="2.1"/><circle cx="290.3" cy="1035.3" r="2.1"/><circle cx="290.3" cy="1056.5" r="2.1"/><circle cx="290.3" cy="1077.7" r="2.1"/><circle cx="290.3" cy="1098.9" r="2.1"/><circle cx="290.3" cy="1120.1" r="2.1"/><circle cx="290.3" cy="1141.3" r="2.1"/><circle cx="290.3" cy="1162.5" r="2.1"/><circle cx="307.1" cy="1035.3" r="2.1"/><circle cx="307.1" cy="1056.5" r="2.1"/><circle cx="307.1" cy="1077.7" r="2.1"/><circle cx="307.1" cy="1098.9" r="2.1"/><circle cx="307.1" cy="1120.1" r="2.1"/><circle cx="307.1" cy="1141.3" r="2.1"/><circle cx="307.1" cy="1162.5" r="2.1"/><circle cx="312.1" cy="1045.9" r="2.1"/><circle cx="312.1" cy="1067.1" r="2.1"/><circle cx="312.1" cy="1088.3" r="2.1"/><circle cx="312.1" cy="1109.5" r="2.1"/><circle cx="312.1" cy="1130.7" r="2.1"/><circle cx="312.1" cy="1151.9" r="2.1"/><circle cx="312.1" cy="1173.1" r="2.1"/><circle cx="328.9" cy="1045.9" r="2.1"/><circle cx="328.9" cy="1067.1" r="2.1"/><circle cx="328.9" cy="1088.3" r="2.1"/><circle cx="328.9" cy="1109.5" r="2.1"/><circle cx="328.9" cy="1130.7" r="2.1"/><circle cx="328.9" cy="1151.9" r="2.1"/><circle cx="328.9" cy="1173.1" r="2.1"/><circle cx="333.9" cy="1056.5" r="2.1"/><circle cx="333.9" cy="1077.7" r="2.1"/><circle cx="333.9" cy="1098.9" r="2.1"/><circle cx="333.9" cy="1120.1" r="2.1"/><circle cx="333.9" cy="1141.3" r="2.1"/><circle cx="333.9" cy="1162.5" r="2.1"/><circle cx="333.9" cy="1183.7" r="2.1"/><circle cx="350.7" cy="1056.5" r="2.1"/><circle cx="350.7" cy="1077.7" r="2.1"/><circle cx="350.7" cy="1098.9" r="2.1"/><circle cx="350.7" cy="1120.1" r="2.1"/><circle cx="350.7" cy="1141.3" r="2.1"/><circle cx="350.7" cy="1162.5" r="2.1"/><circle cx="350.7" cy="1183.7" r="2.1"/><circle cx="355.7" cy="1067.1" r="2.1"/><circle cx="355.7" cy="1088.3" r="2.1"/><circle cx="355.7" cy="1109.5" r="2.1"/><circle cx="355.7" cy="1130.7" r="2.1"/><circle cx="355.7" cy="1151.9" r="2.1"/><circle cx="355.7" cy="1173.1" r="2.1"/><circle cx="355.8" cy="1067.1" r="2.1"/><circle cx="355.8" cy="1088.3" r="2.1"/><circle cx="355.8" cy="1109.5" r="2.1"/><circle cx="355.8" cy="1130.7" r="2.1"/><circle cx="355.8" cy="1151.9" r="2.1"/><circle cx="355.8" cy="1173.1" r="2.1"/><circle cx="355.8" cy="1194.3" r="2.1"/><circle cx="372.5" cy="1067.1" r="2.1"/><circle cx="372.5" cy="1088.3" r="2.1"/><circle cx="372.5" cy="1109.5" r="2.1"/><circle cx="372.5" cy="1130.7" r="2.1"/><circle cx="372.5" cy="1151.9" r="2.1"/><circle cx="372.5" cy="1173.1" r="2.1"/><circle cx="372.5" cy="1194.3" r="2.1"/><circle cx="372.6" cy="1088.3" r="2.1"/><circle cx="372.6" cy="1109.5" r="2.1"/><circle cx="372.6" cy="1130.7" r="2.1"/><circle cx="372.6" cy="1151.9" r="2.1"/><circle cx="372.6" cy="1173.1" r="2.1"/><circle cx="372.6" cy="1194.3" r="2.1"/><circle cx="377.6" cy="1077.7" r="2.1"/><circle cx="377.6" cy="1098.9" r="2.1"/><circle cx="377.6" cy="1120.1" r="2.1"/><circle cx="377.6" cy="1141.3" r="2.1"/><circle cx="377.6" cy="1162.5" r="2.1"/><circle cx="377.6" cy="1183.7" r="2.1"/><circle cx="377.6" cy="1204.9" r="2.1"/><circle cx="394.4" cy="1077.7" r="2.1"/><circle cx="394.4" cy="1098.9" r="2.1"/><circle cx="394.4" cy="1120.1" r="2.1"/><circle cx="394.4" cy="1141.3" r="2.1"/><circle cx="394.4" cy="1162.5" r="2.1"/><circle cx="394.4" cy="1183.7" r="2.1"/><circle cx="394.4" cy="1204.9" r="2.1"/><circle cx="399.4" cy="1088.3" r="2.1"/><circle cx="399.4" cy="1109.5" r="2.1"/><circle cx="399.4" cy="1130.7" r="2.1"/><circle cx="399.4" cy="1151.9" r="2.1"/><circle cx="399.4" cy="1173.1" r="2.1"/><circle cx="399.4" cy="1194.3" r="2.1"/><circle cx="399.4" cy="1215.5" r="2.1"/><circle cx="416.2" cy="1088.3" r="2.1"/><circle cx="416.2" cy="1109.5" r="2.1"/><circle cx="416.2" cy="1130.7" r="2.1"/><circle cx="416.2" cy="1151.9" r="2.1"/><circle cx="416.2" cy="1173.1" r="2.1"/><circle cx="416.2" cy="1194.3" r="2.1"/><circle cx="416.2" cy="1215.5" r="2.1"/><circle cx="421.2" cy="1098.9" r="2.1"/><circle cx="421.2" cy="1120.1" r="2.1"/><circle cx="421.2" cy="1141.3" r="2.1"/><circle cx="421.2" cy="1162.5" r="2.1"/><circle cx="421.2" cy="1183.7" r="2.1"/><circle cx="421.2" cy="1204.9" r="2.1"/><circle cx="421.2" cy="1226.1" r="2.1"/><circle cx="438" cy="1098.9" r="2.1"/><circle cx="438" cy="1120.1" r="2.1"/><circle cx="438" cy="1141.3" r="2.1"/><circle cx="438" cy="1162.5" r="2.1"/><circle cx="438" cy="1183.7" r="2.1"/><circle cx="438" cy="1204.9" r="2.1"/><circle cx="438" cy="1226.1" r="2.1"/><circle cx="443.1" cy="1109.5" r="2.1"/><circle cx="443.1" cy="1130.7" r="2.1"/><circle cx="443.1" cy="1151.9" r="2.1"/><circle cx="443.1" cy="1173.1" r="2.1"/><circle cx="443.1" cy="1194.3" r="2.1"/><circle cx="443.1" cy="1215.5" r="2.1"/><circle cx="443.1" cy="1236.7" r="2.1"/><circle cx="459.9" cy="1109.5" r="2.1"/><circle cx="459.9" cy="1130.7" r="2.1"/><circle cx="459.9" cy="1151.9" r="2.1"/><circle cx="459.9" cy="1173.1" r="2.1"/><circle cx="459.9" cy="1194.3" r="2.1"/><circle cx="459.9" cy="1215.5" r="2.1"/><circle cx="459.9" cy="1236.7" r="2.1"/><circle cx="464.9" cy="1120.1" r="2.1"/><circle cx="464.9" cy="1141.3" r="2.1"/><circle cx="464.9" cy="1162.5" r="2.1"/><circle cx="464.9" cy="1183.7" r="2.1"/><circle cx="464.9" cy="1204.9" r="2.1"/><circle cx="464.9" cy="1226.1" r="2.1"/><circle cx="464.9" cy="1247.3" r="2.1"/><circle cx="481.7" cy="1120.1" r="2.1"/><circle cx="481.7" cy="1141.3" r="2.1"/><circle cx="481.7" cy="1162.5" r="2.1"/><circle cx="481.7" cy="1183.7" r="2.1"/><circle cx="481.7" cy="1204.9" r="2.1"/><circle cx="481.7" cy="1226.1" r="2.1"/><circle cx="481.7" cy="1247.3" r="2.1"/><circle cx="486.7" cy="1130.7" r="2.1"/><circle cx="486.7" cy="1151.9" r="2.1"/><circle cx="486.7" cy="1173.1" r="2.1"/><circle cx="486.7" cy="1194.3" r="2.1"/><circle cx="486.7" cy="1215.5" r="2.1"/><circle cx="486.7" cy="1236.7" r="2.1"/><circle cx="486.7" cy="1257.9" r="2.1"/><circle cx="503.5" cy="1130.7" r="2.1"/><circle cx="503.5" cy="1151.9" r="2.1"/><circle cx="503.5" cy="1173.1" r="2.1"/><circle cx="503.5" cy="1194.3" r="2.1"/><circle cx="503.5" cy="1215.5" r="2.1"/><circle cx="503.5" cy="1236.7" r="2.1"/><circle cx="503.5" cy="1257.9" r="2.1"/><circle cx="508.6" cy="1141.3" r="2.1"/><circle cx="508.6" cy="1162.5" r="2.1"/><circle cx="508.6" cy="1183.7" r="2.1"/><circle cx="508.6" cy="1204.9" r="2.1"/><circle cx="508.6" cy="1226.1" r="2.1"/><circle cx="508.6" cy="1247.3" r="2.1"/><circle cx="508.6" cy="1268.5" r="2.1"/><circle cx="525.4" cy="1141.3" r="2.1"/><circle cx="525.4" cy="1162.5" r="2.1"/><circle cx="525.4" cy="1183.7" r="2.1"/><circle cx="525.4" cy="1204.9" r="2.1"/><circle cx="525.4" cy="1226.1" r="2.1"/><circle cx="525.4" cy="1247.3" r="2.1"/><circle cx="525.4" cy="1268.5" r="2.1"/><circle cx="530.4" cy="1151.9" r="2.1"/><circle cx="530.4" cy="1173.1" r="2.1"/><circle cx="530.4" cy="1194.3" r="2.1"/><circle cx="530.4" cy="1215.5" r="2.1"/><circle cx="530.4" cy="1236.7" r="2.1"/><circle cx="530.4" cy="1257.9" r="2.1"/><circle cx="530.4" cy="1279.1" r="2.1"/><circle cx="547.2" cy="1151.9" r="2.1"/><circle cx="547.2" cy="1173.1" r="2.1"/><circle cx="547.2" cy="1194.3" r="2.1"/><circle cx="547.2" cy="1215.5" r="2.1"/><circle cx="547.2" cy="1236.7" r="2.1"/><circle cx="547.2" cy="1257.9" r="2.1"/><circle cx="547.2" cy="1279.1" r="2.1"/><circle cx="552.2" cy="1162.5" r="2.1"/><circle cx="552.2" cy="1183.7" r="2.1"/><circle cx="552.2" cy="1204.9" r="2.1"/><circle cx="552.2" cy="1226.1" r="2.1"/><circle cx="552.2" cy="1247.3" r="2.1"/><circle cx="552.2" cy="1268.5" r="2.1"/><circle cx="552.2" cy="1289.7" r="2.1"/><circle cx="569" cy="1162.5" r="2.1"/><circle cx="569" cy="1183.7" r="2.1"/><circle cx="569" cy="1204.9" r="2.1"/><circle cx="569" cy="1226.1" r="2.1"/><circle cx="569" cy="1247.3" r="2.1"/><circle cx="569" cy="1268.5" r="2.1"/><circle cx="569" cy="1289.7" r="2.1"/><circle cx="574" cy="1173.1" r="2.1"/><circle cx="574" cy="1194.3" r="2.1"/><circle cx="574" cy="1215.5" r="2.1"/><circle cx="574" cy="1236.7" r="2.1"/><circle cx="574" cy="1257.9" r="2.1"/><circle cx="574" cy="1279.1" r="2.1"/><circle cx="574.1" cy="1173.1" r="2.1"/><circle cx="574.1" cy="1194.3" r="2.1"/><circle cx="574.1" cy="1215.5" r="2.1"/><circle cx="574.1" cy="1236.7" r="2.1"/><circle cx="574.1" cy="1257.9" r="2.1"/><circle cx="574.1" cy="1279.1" r="2.1"/><circle cx="574.1" cy="1300.3" r="2.1"/><circle cx="590.9" cy="1173.1" r="2.1"/><circle cx="590.9" cy="1194.3" r="2.1"/><circle cx="590.9" cy="1215.5" r="2.1"/><circle cx="590.9" cy="1236.7" r="2.1"/><circle cx="590.9" cy="1257.9" r="2.1"/><circle cx="590.9" cy="1279.1" r="2.1"/><circle cx="590.9" cy="1300.3" r="2.1"/><circle cx="595.9" cy="1183.7" r="2.1"/><circle cx="595.9" cy="1204.9" r="2.1"/><circle cx="595.9" cy="1226.1" r="2.1"/><circle cx="595.9" cy="1247.3" r="2.1"/><circle cx="595.9" cy="1268.5" r="2.1"/><circle cx="595.9" cy="1289.7" r="2.1"/><circle cx="595.9" cy="1310.9" r="2.1"/><circle cx="612.7" cy="1183.7" r="2.1"/><circle cx="612.7" cy="1204.9" r="2.1"/><circle cx="612.7" cy="1226.1" r="2.1"/><circle cx="612.7" cy="1247.3" r="2.1"/><circle cx="612.7" cy="1268.5" r="2.1"/><circle cx="612.7" cy="1289.7" r="2.1"/><circle cx="612.7" cy="1310.9" r="2.1"/><circle cx="617.7" cy="1194.3" r="2.1"/><circle cx="617.7" cy="1215.5" r="2.1"/><circle cx="617.7" cy="1236.7" r="2.1"/><circle cx="617.7" cy="1257.9" r="2.1"/><circle cx="617.7" cy="1279.1" r="2.1"/><circle cx="617.7" cy="1300.3" r="2.1"/><circle cx="617.7" cy="1321.5" r="2.1"/><circle cx="634.5" cy="1194.3" r="2.1"/><circle cx="634.5" cy="1215.5" r="2.1"/><circle cx="634.5" cy="1236.7" r="2.1"/><circle cx="634.5" cy="1257.9" r="2.1"/><circle cx="634.5" cy="1279.1" r="2.1"/><circle cx="634.5" cy="1300.3" r="2.1"/><circle cx="634.5" cy="1321.5" r="2.1"/><circle cx="639.5" cy="1204.9" r="2.1"/><circle cx="639.5" cy="1226.1" r="2.1"/><circle cx="639.5" cy="1247.3" r="2.1"/><circle cx="639.5" cy="1268.5" r="2.1"/><circle cx="639.5" cy="1289.7" r="2.1"/><circle cx="639.5" cy="1310.9" r="2.1"/><circle cx="656.3" cy="1204.9" r="2.1"/><circle cx="656.3" cy="1226.1" r="2.1"/><circle cx="656.3" cy="1247.3" r="2.1"/><circle cx="656.3" cy="1268.5" r="2.1"/><circle cx="656.3" cy="1289.7" r="2.1"/><circle cx="656.3" cy="1310.9" r="2.1"/><circle cx="661.4" cy="1215.5" r="2.1"/><circle cx="661.4" cy="1236.7" r="2.1"/><circle cx="661.4" cy="1257.9" r="2.1"/><circle cx="661.4" cy="1279.1" r="2.1"/><circle cx="661.4" cy="1300.3" r="2.1"/><circle cx="678.2" cy="1215.5" r="2.1"/><circle cx="678.2" cy="1236.7" r="2.1"/><circle cx="678.2" cy="1257.9" r="2.1"/><circle cx="678.2" cy="1279.1" r="2.1"/><circle cx="683.2" cy="1226.1" r="2.1"/><circle cx="683.2" cy="1247.3" r="2.1"/><circle cx="683.2" cy="1268.5" r="2.1"/><circle cx="700" cy="1226.1" r="2.1"/><circle cx="700" cy="1247.3" r="2.1"/><circle cx="705" cy="1236.7" r="2.1"/></g>
</g>
<text x="110" y="1053.2" font-family="'Liberation Sans', Arial, sans-serif" font-size="42" font-weight="bold" textLength="154" lengthAdjust="spacingAndGlyphs">g-C<tspan font-size="26" dy="5">3</tspan><tspan dy="-5">N</tspan><tspan font-size="26" dy="5">4</tspan></text>
<text x="424" y="1206.5" font-family="'Liberation Sans', Arial, sans-serif" font-size="42" font-weight="bold" textLength="101" lengthAdjust="spacingAndGlyphs">TiO<tspan font-size="27" dy="10">2</tspan></text>
<line x1="331" y1="1191" x2="331" y2="1234" stroke="#000" stroke-width="2.6"/>
<polygon points="325,1231 337,1231 331,1246" fill="#000"/>
<text x="283.5" y="1289.3" font-family="'Liberation Sans', Arial, sans-serif" font-size="39.5" font-weight="bold" text-anchor="start" fill="#000" textLength="106.5" lengthAdjust="spacingAndGlyphs" >GNR</text>
<text x="603" y="874.1" font-family="'Liberation Sans', Arial, sans-serif" font-size="45" font-weight="bold" text-anchor="start" fill="#000" textLength="279" lengthAdjust="spacingAndGlyphs" >Visible light</text>
<polygon points="730.5,891.5 757,934.5 750,939 777.5,978.5 768.5,984.5 804.5,1051 740.5,1000.5 752,994.5 711,960.5 723,952.5 683.5,918" fill="#ffff00" stroke="#000" stroke-width="7" stroke-linejoin="round"/>
<polygon points="632,1068.7 928.9,1068.7 928.9,1052.5 967.5,1086 928.9,1119.5 928.9,1102 632,1102" fill="none" stroke="#3a8b93" stroke-width="7.2" stroke-linejoin="miter"/>
<ellipse cx="1210" cy="976" rx="131.4" ry="177.4" fill="none" stroke="#ffc000" stroke-width="6"/>
<ellipse cx="1499.6" cy="1072" rx="156" ry="253" fill="none" stroke="#c00000" stroke-width="7"/>
<g stroke="#000" stroke-width="4.4">
<line x1="1121.3" y1="851.7" x2="1299.8" y2="851.7"/>
<line x1="1119.3" y1="1104" x2="1303.3" y2="1104"/>
<line x1="1392.2" y1="897" x2="1608.5" y2="897"/>
<line x1="1394.7" y1="1253" x2="1605.5" y2="1253"/>
</g>
<line x1="1242.8" y1="1104" x2="1242.8" y2="866" stroke="#000" stroke-width="4.4"/>
<polygon points="1242.6,854.5 1251.5,869.5 1233.7,869.5" fill="#000"/>
<line x1="1559.8" y1="1253" x2="1562.2" y2="912" stroke="#000" stroke-width="4.4"/>
<polygon points="1562.3,899.5 1571,914.5 1553.6,914.5" fill="#000"/>
<text x="1188.3" y="828.6" font-family="'Liberation Sans', Arial, sans-serif" font-size="34.8" font-weight="bold" text-anchor="start" fill="#000" textLength="51.2" lengthAdjust="spacingAndGlyphs" >CB</text>
<text font-family="'Liberation Sans', Arial, sans-serif" font-size="24" font-weight="bold" stroke="#000" stroke-width="0.7"><tspan x="1155.2" y="845.3">e</tspan><tspan x="1186.7" y="845.3">e</tspan><tspan x="1218.1" y="845.3">e</tspan><tspan x="1249.5" y="845.3">e</tspan></text>
<g fill="#000"><rect x="1170.8" y="830.6" width="5.6" height="1.9"/><rect x="1202.3" y="830.6" width="5.6" height="1.9"/><rect x="1233.7" y="830.6" width="5.6" height="1.9"/><rect x="1265.1" y="830.6" width="5.6" height="1.9"/></g>
<text x="1130.3" y="896.1" font-family="'Liberation Sans', Arial, sans-serif" font-size="37" font-weight="bold" text-anchor="start" fill="#000" textLength="101.5" lengthAdjust="spacingAndGlyphs" >-1.12</text>
<text x="1121.3" y="1021" font-family="'Liberation Sans', Arial, sans-serif" font-size="37" font-weight="bold" text-anchor="start" fill="#000" textLength="117.2" lengthAdjust="spacingAndGlyphs" >2.7eV</text>
<text x="1120.5" y="1090" font-family="'Liberation Sans', Arial, sans-serif" font-size="37" font-weight="bold" text-anchor="start" fill="#000" textLength="111.8" lengthAdjust="spacingAndGlyphs" >+1.58</text>
<text font-family="'Liberation Sans', Arial, sans-serif" font-size="27" font-weight="bold" stroke="#000" stroke-width="0.5"><tspan x="1149.6" y="1128.6">h</tspan><tspan x="1186.9" y="1128.6">h</tspan><tspan x="1224.1" y="1128.6">h</tspan><tspan x="1260.8" y="1128.6">h</tspan></text>
<text font-family="'Liberation Sans', Arial, sans-serif" font-size="16" font-weight="bold"><tspan x="1166.4" y="1121.4">+</tspan><tspan x="1203.7" y="1121.4">+</tspan><tspan x="1240.9" y="1121.4">+</tspan><tspan x="1277.6" y="1121.4">+</tspan></text>
<text x="1186.9" y="1155.2" font-family="'Liberation Sans', Arial, sans-serif" font-size="36" font-weight="bold" text-anchor="start" fill="#000" textLength="53.5" lengthAdjust="spacingAndGlyphs" >VB</text>
<text x="1143.8" y="1210" font-family="'Liberation Sans', Arial, sans-serif" font-size="35" font-weight="bold" textLength="131.5" lengthAdjust="spacingAndGlyphs">g-C<tspan font-size="24" dy="4">3</tspan><tspan dy="-4">N</tspan><tspan font-size="24" dy="4">4</tspan></text>
<text x="1478" y="860" font-family="'Liberation Sans', Arial, sans-serif" font-size="34" font-weight="bold" text-anchor="start" fill="#000" textLength="53.5" lengthAdjust="spacingAndGlyphs" >CB</text>
<text font-family="'Liberation Sans', Arial, sans-serif" font-size="24" font-weight="bold" stroke="#000" stroke-width="0.7"><tspan x="1454.4" y="888.9">e</tspan><tspan x="1485.3" y="888.9">e</tspan><tspan x="1517" y="888.9">e</tspan><tspan x="1548" y="888.9">e</tspan></text>
<g fill="#000"><rect x="1470" y="874.3" width="5.6" height="1.9"/><rect x="1500.9" y="874.3" width="5.6" height="1.9"/><rect x="1532.6" y="874.3" width="5.6" height="1.9"/><rect x="1563.6" y="874.3" width="5.6" height="1.9"/></g>
<text x="1430.7" y="940" font-family="'Liberation Sans', Arial, sans-serif" font-size="36" font-weight="bold" text-anchor="start" fill="#000" textLength="103.7" lengthAdjust="spacingAndGlyphs" >-0.29</text>
<text x="1429" y="1083.7" font-family="'Liberation Sans', Arial, sans-serif" font-size="36" font-weight="bold" text-anchor="start" fill="#000" textLength="117.3" lengthAdjust="spacingAndGlyphs" >3.2eV</text>
<text x="1440.6" y="1244" font-family="'Liberation Sans', Arial, sans-serif" font-size="37" font-weight="bold" text-anchor="start" fill="#000" textLength="110.6" lengthAdjust="spacingAndGlyphs" >+2.91</text>
<text font-family="'Liberation Sans', Arial, sans-serif" font-size="27" font-weight="bold" stroke="#000" stroke-width="0.5"><tspan x="1442.2" y="1284.3">h</tspan><tspan x="1479" y="1284.3">h</tspan><tspan x="1516.7" y="1284.3">h</tspan><tspan x="1553.1" y="1284.3">h</tspan></text>
<text font-family="'Liberation Sans', Arial, sans-serif" font-size="16" font-weight="bold"><tspan x="1459" y="1277.1">+</tspan><tspan x="1495.8" y="1277.1">+</tspan><tspan x="1533.5" y="1277.1">+</tspan><tspan x="1569.9" y="1277.1">+</tspan></text>
<text x="1482.3" y="1313.9" font-family="'Liberation Sans', Arial, sans-serif" font-size="35" font-weight="bold" text-anchor="start" fill="#000" textLength="53.3" lengthAdjust="spacingAndGlyphs" >VB</text>
<text x="1476" y="1378.6" font-family="'Liberation Sans', Arial, sans-serif" font-size="37" font-weight="bold" textLength="85.6" lengthAdjust="spacingAndGlyphs">TiO<tspan font-size="25" dy="8">2</tspan></text>
<text x="1681" y="937" font-family="'Liberation Sans', Arial, sans-serif" font-size="32" font-weight="bold" text-anchor="start" fill="#000" textLength="172" lengthAdjust="spacingAndGlyphs" >Reduction</text>
<text x="908.6" y="1232" font-family="'Liberation Sans', Arial, sans-serif" font-size="34" font-weight="bold" text-anchor="start" fill="#000" textLength="166.5" lengthAdjust="spacingAndGlyphs" >Oxidation</text>
<text x="1344.4" y="810.2" font-family="'Liberation Sans', Arial, sans-serif" font-size="33" font-weight="bold">e<tspan font-size="20" dy="-14">-</tspan></text>
<path d="M1269.5,811.3 C1270.1,809.5 1270.7,804.9 1273,800.5 C1275.3,796.1 1278.2,789.8 1283.5,785 C1288.8,780.2 1297.8,775.3 1305,772 C1312.2,768.7 1317.8,766.9 1327,765.3 C1336.2,763.7 1349,762.4 1360,762.6 C1371,762.8 1383.9,764.4 1393,766.3 C1402.1,768.2 1407.4,770.5 1414.6,774 C1421.8,777.5 1430.7,783.4 1436,787 C1441.3,790.6 1444.8,794.1 1446.5,795.5 L1457,800 L1443.5,812 L1422,799.5 L1429.5,796.5 C1428.2,794.8 1424.9,789.9 1421.5,786.5 C1418.1,783.1 1414.7,779.2 1409,776 C1403.3,772.8 1395.7,769.3 1387.5,767.4 C1379.3,765.5 1369.2,764.6 1360,764.7 C1350.8,764.8 1340.7,766.1 1332.5,768 C1324.3,769.9 1316.7,772.8 1311,775.8 C1305.3,778.8 1301.8,782 1298.5,785.8 C1295.2,789.6 1292.5,794.2 1291,798.5 C1289.5,802.8 1289.5,809.2 1289.2,811.3 Z" fill="#5a9a9e" stroke="#000" stroke-width="4.2" stroke-linejoin="round"/>
<path d="M1703.5,1023 C1699.7,1022.1 1687.2,1021 1680.4,1017.5 C1673.6,1014 1667.3,1008.1 1662.5,1002 C1657.7,995.9 1653.9,989.3 1651.5,981 C1649.1,972.7 1648.6,960.8 1648,952.4 C1647.4,944 1647.7,937.9 1648,930.8 C1648.3,923.6 1648.2,916.5 1650,909.5 C1651.8,902.5 1655.2,895.3 1658.5,888.5 C1661.8,881.7 1666.2,873.2 1669.5,868.5 C1672.8,863.8 1675.3,862.3 1678.5,860 C1681.7,857.7 1685.2,856 1688.8,854.5 C1692.4,853 1698.4,851.4 1700.3,850.8 L1702.8,842.8 L1717.3,854.1 L1700.5,868.8 L1699.3,862.5 C1697.5,862.9 1692,863.7 1688.8,865 C1685.5,866.3 1682.8,867.9 1679.8,870.3 C1676.8,872.7 1674.1,875.6 1670.8,879.5 C1667.5,883.4 1663,887.6 1660,893.8 C1657,899.9 1654.4,908.3 1653,916.4 C1651.6,924.5 1651.3,934.4 1651.5,942.3 C1651.7,950.1 1652.4,956.5 1654.3,963.5 C1656.2,970.5 1659,978.5 1662.7,984.5 C1666.4,990.5 1671.7,995.9 1676.6,999.8 C1681.5,1003.7 1687.4,1006.3 1691.9,1007.8 C1696.4,1009.3 1701.6,1008.6 1703.5,1008.7 Z" fill="#5f9fa2" stroke="#000" stroke-width="3.6" stroke-linejoin="round"/>
<path d="M1054.5,1079 C1057.5,1079.3 1066.9,1078.5 1072.8,1081 C1078.7,1083.5 1085.2,1089.1 1090,1093.7 C1094.8,1098.3 1098.4,1102.4 1101.8,1108.5 C1105.2,1114.6 1108.5,1121.7 1110.5,1130.4 C1112.5,1139.1 1113.2,1150.5 1113.5,1160.6 C1113.8,1170.7 1113.5,1182.1 1112,1190.8 C1110.5,1199.5 1107.7,1206.2 1104.8,1212.5 C1101.9,1218.8 1098.7,1223.9 1094.6,1228.6 C1090.5,1233.3 1085.4,1237.6 1080.3,1240.5 C1075.2,1243.4 1066.5,1245.1 1063.7,1246 L1061.5,1243.7 L1045.3,1258 L1058.8,1269 L1061,1263.4 L1074.3,1255.8 C1077.1,1253.8 1086.3,1248.5 1090.9,1243.9 C1095.5,1239.3 1099,1234.3 1102,1228 C1105,1221.7 1107.6,1214.6 1109,1205.9 C1110.4,1197.2 1110.8,1185.8 1110.6,1175.7 C1110.4,1165.6 1109.6,1155 1107.6,1145.5 C1105.6,1136 1102.6,1126.3 1098.7,1119 C1094.8,1111.7 1089.3,1105.7 1084.2,1101.5 C1079.1,1097.3 1073.2,1095.7 1068.2,1094 C1063.2,1092.3 1056.8,1091.8 1054.5,1091.3 Z" fill="#5f9fa2" stroke="#000" stroke-width="3.6" stroke-linejoin="round"/>
</svg></body></html>
